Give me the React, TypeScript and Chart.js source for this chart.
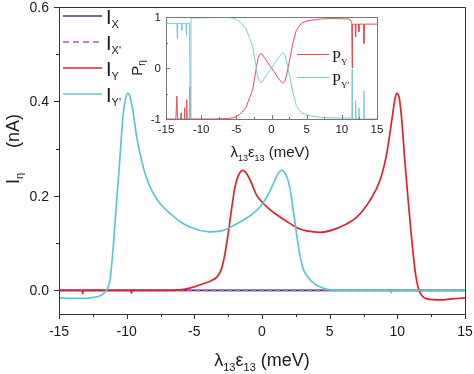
import React, { useEffect, useRef } from 'react';
import { Chart, registerables } from 'chart.js';
Chart.register(...registerables);

const FONT = "Arial, 'Liberation Sans', Helvetica, sans-serif";
const SERIF = "'Times New Roman', 'Liberation Serif', serif";

// ---- main axes ----
const X_TICKS = [-15, -10, -5, 0, 5, 10, 15];
const X_MINOR = [-12.5, -7.5, -2.5, 2.5, 7.5, 12.5];
const Y_TICKS = [0, 0.2, 0.4, 0.6];
const Y_MINOR = [0.1, 0.3, 0.5];
const MAIN_LEGEND_SUBS = ['X', "X'", 'Y', "Y'"];

// ---- main series ----
const IX_X = [-15, 15];
const IX_Y = [0, 0];
const IXP_X = [-15, 15];
const IXP_Y = [0, 0];

const IY_X = [-15, -13.3, -13.25, -13.2, -11, -9.7, -9.65, -9.6, -7, -5.8, -5.07, -4.33, -3.72, -3.34, -3.0, -2.75, -2.5, -2.25, -2.0, -1.75, -1.42, -1.13, -0.76, -0.39, 0.1, 0.59, 1.09, 1.83, 2.32, 2.8, 3.31, 4.29, 5.77, 7.0, 7.99, 8.72, 9.22, 9.59, 9.83, 9.96, 10.15, 10.33, 10.57, 10.82, 11.07, 11.31, 11.56, 11.81, 12.18, 13.16, 14.0, 15];
const IY_Y = [0, 0, -0.007, 0, 0, 0, -0.006, 0, 0, 0.002, 0.007, 0.014, 0.021, 0.028, 0.045, 0.075, 0.12, 0.172, 0.218, 0.243, 0.254, 0.247, 0.226, 0.201, 0.184, 0.171, 0.16, 0.146, 0.137, 0.13, 0.126, 0.123, 0.134, 0.155, 0.191, 0.233, 0.29, 0.36, 0.406, 0.417, 0.406, 0.36, 0.269, 0.184, 0.106, 0.042, 0.004, -0.011, -0.018, -0.02, -0.018, -0.016];

const IYP_X = [-15, -14, -13, -12.7, -12.3, -12.0, -11.72, -11.47, -11.23, -11.1, -10.99, -10.81, -10.62, -10.44, -10.25, -10.1, -9.92, -9.75, -9.51, -9.26, -9.01, -8.64, -8.15, -7.54, -6.8, -5.81, -4.82, -3.84, -2.86, -1.87, -0.88, -0.14, 0.4, 0.84, 1.2, 1.46, 1.8, 2.05, 2.3, 2.55, 2.8, 3.05, 3.4, 3.8, 4.3, 5.0, 5.5, 6.5, 8, 9.5, 9.55, 9.6, 11, 12.5, 14, 15];
const IYP_Y = [-0.016, -0.017, -0.017, -0.016, -0.014, -0.012, -0.007, 0.0015, 0.021, 0.057, 0.092, 0.163, 0.233, 0.304, 0.375, 0.403, 0.417, 0.41, 0.375, 0.325, 0.29, 0.247, 0.212, 0.184, 0.163, 0.141, 0.129, 0.124, 0.127, 0.141, 0.158, 0.177, 0.2, 0.226, 0.248, 0.254, 0.243, 0.218, 0.172, 0.12, 0.075, 0.045, 0.028, 0.016, 0.007, 0.001, 0, 0, 0, 0, -0.005, 0, 0, 0, 0, 0];

// ---- inset axes ----
const IN_X_TICKS = [-15, -10, -5, 0, 5, 10, 15];
const IN_X_MINOR = [-12.5, -7.5, -2.5, 2.5, 7.5, 12.5];
const IN_Y_TICKS = [-1, 0, 1];
const IN_Y_MINOR = [-0.5, 0.5];
const IN_LEGEND_SUBS = ['Y', "Y'"];

// ---- inset series ----
const PY_X = [-15, -13.6, -13.45, -13.35, -12.9, -12.85, -12.8, -12.43, -12.38, -12.33, -12.1, -12.05, -12.0, -11.65, -11.6, -11.55, -11.3, -8, -6, -5.04, -4.3, -3.61, -3.1, -2.67, -2.4, -2.15, -1.9, -1.6, -1.3, -1.0, -0.5, 0, 0.5, 1.0, 1.6, 1.9, 2.2, 2.57, 3.04, 3.53, 4.24, 5.19, 7, 8.5, 11.1, 11.4, 11.47, 11.52, 11.6, 11.9, 11.96, 12.02, 12.38, 12.43, 12.48, 13.09, 13.14, 13.19, 14, 15];
const PY_Y = [-1, -1, -0.55, -1, -1, -0.88, -1, -1, -0.78, -1, -1, -0.62, -1, -1, -0.37, -1, -1, -1, -0.99, -0.96, -0.88, -0.77, -0.58, -0.42, -0.2, 0.02, 0.2, 0.28, 0.27, 0.2, 0.1, 0.0, -0.1, -0.21, -0.3, -0.26, -0.1, 0.15, 0.48, 0.74, 0.875, 0.93, 0.96, 0.97, 0.96, 0.9, 0.0, 0.86, 0.86, 0.86, 0.61, 0.86, 0.86, 0.71, 0.86, 0.86, 0.48, 0.86, 0.86, 0.86];

const PYP_X = [-15, -13.45, -13.4, -13.35, -12.8, -12.76, -12.72, -12.15, -12.1, -12.05, -11.65, -11.57, -11.45, -11.2, -8, -6, -5.04, -4.3, -3.61, -3.1, -2.67, -2.4, -2.15, -1.9, -1.6, -1.3, -1.0, -0.5, 0, 0.5, 1.0, 1.6, 1.9, 2.2, 2.57, 3.04, 3.53, 4.24, 5.19, 7, 8.5, 11.1, 11.42, 11.47, 11.52, 11.9, 11.96, 12.02, 12.38, 12.43, 12.48, 13.09, 13.14, 13.19, 14, 15];
const PYP_Y = [0.875, 0.875, 0.58, 0.875, 0.875, 0.74, 0.875, 0.875, 0.64, 0.875, 0.875, -1, 0.97, 0.98, 0.99, 0.99, 0.96, 0.88, 0.77, 0.58, 0.42, 0.2, -0.02, -0.2, -0.28, -0.27, -0.2, -0.1, 0, 0.1, 0.21, 0.3, 0.26, 0.1, -0.15, -0.48, -0.74, -0.875, -0.93, -0.97, -0.98, -0.98, -0.98, -0.02, -1, -1, -0.64, -1, -1, -0.78, -1, -1, -0.45, -1, -1, -1];

const C_X = '#2b3990';
const C_XP = '#b35ab5';
const C_Y = '#e4202b';
const C_YP = '#5ec6d2';
const C_PY = '#ea4d55';
const C_PYP = '#78cdd9';
const TXT = '#1a1a1a';

const pts = (xs: number[], ys: number[]) => xs.map((x, i) => ({ x, y: ys[i] }));

type Seg = { t: string; size: number; dy?: number; fam?: string };
function drawRich(ctx: CanvasRenderingContext2D, segs: Seg[], x: number, y: number, align: 'left' | 'center') {
  let w = 0;
  const ws: number[] = [];
  for (const s of segs) {
    ctx.font = `${s.size}px ${s.fam || FONT}`;
    const m = ctx.measureText(s.t).width;
    ws.push(m);
    w += m;
  }
  let cx = align === 'center' ? x - w / 2 : x;
  ctx.textAlign = 'left';
  ctx.textBaseline = 'alphabetic';
  segs.forEach((s, i) => {
    ctx.font = `${s.size}px ${s.fam || FONT}`;
    ctx.fillText(s.t, cx, y + (s.dy || 0));
    cx += ws[i];
  });
}

const mainDecor = {
  id: 'mainDecor',
  afterDraw(chart: any) {
    const ctx: CanvasRenderingContext2D = chart.ctx;
    const { left, right, top, bottom } = chart.chartArea;
    const xs = chart.scales.x;
    const ys = chart.scales.y;
    ctx.save();
    ctx.strokeStyle = '#333';
    ctx.lineWidth = 1;
    ctx.strokeRect(Math.round(left) + 0.5, Math.round(top) + 0.5, Math.round(right - left), Math.round(bottom - top));
    ctx.beginPath();
    for (const v of X_TICKS) { const p = Math.round(xs.getPixelForValue(v)) + 0.5; ctx.moveTo(p, bottom); ctx.lineTo(p, bottom + 5); }
    for (const v of X_MINOR) { const p = Math.round(xs.getPixelForValue(v)) + 0.5; ctx.moveTo(p, bottom); ctx.lineTo(p, bottom + 3); }
    for (const v of Y_TICKS) { const p = Math.round(ys.getPixelForValue(v)) + 0.5; ctx.moveTo(left, p); ctx.lineTo(left - 5, p); }
    for (const v of Y_MINOR) { const p = Math.round(ys.getPixelForValue(v)) + 0.5; ctx.moveTo(left, p); ctx.lineTo(left - 3, p); }
    ctx.stroke();

    // tick labels
    ctx.fillStyle = TXT;
    ctx.font = `14px ${FONT}`;
    ctx.textBaseline = 'alphabetic';
    ctx.textAlign = 'center';
    for (const v of X_TICKS) ctx.fillText(String(v), xs.getPixelForValue(v), 336);
    ctx.textAlign = 'right';
    for (const v of Y_TICKS) ctx.fillText(v.toFixed(1), 49, ys.getPixelForValue(v) + 5);

    drawRich(ctx, [
      { t: 'λ', size: 18 }, { t: '13', size: 11, dy: 5 }, { t: 'ε', size: 18 }, { t: '13', size: 11, dy: 5 }, { t: ' (meV)', size: 18 },
    ], 262, 366, 'center');

    // y title, rotated: local x = -page y
    ctx.save();
    ctx.translate(19, 0);
    ctx.rotate(-Math.PI / 2);
    drawRich(ctx, [{ t: 'I', size: 18 }, { t: 'η', size: 11, dy: 4 }], -184, 0, 'left');
    drawRich(ctx, [{ t: '(nA)', size: 18 }], -148, 0, 'left');
    ctx.restore();

    // legend
    const cols = [C_X, C_XP, C_Y, C_YP];
    MAIN_LEGEND_SUBS.forEach((sub, i) => {
      const ly = 16 + i * 26;
      ctx.beginPath();
      ctx.strokeStyle = cols[i];
      ctx.lineWidth = 1.6;
      ctx.setLineDash(i === 1 ? [6, 4] : []);
      ctx.moveTo(63, ly);
      ctx.lineTo(102, ly);
      ctx.stroke();
      ctx.setLineDash([]);
      ctx.fillStyle = TXT;
      drawRich(ctx, [{ t: 'I', size: 20 }, { t: sub, size: 11, dy: 4 }], 106, ly + 8, 'left');
    });
    ctx.restore();
  },
};

const insetDecor = {
  id: 'insetDecor',
  beforeDraw(chart: any) {
    const ctx: CanvasRenderingContext2D = chart.ctx;
    const { left, right, top, bottom } = chart.chartArea;
    ctx.save();
    ctx.fillStyle = '#ffffff';
    ctx.fillRect(left, top, right - left, bottom - top);
    ctx.restore();
  },
  afterDraw(chart: any) {
    const ctx: CanvasRenderingContext2D = chart.ctx;
    const { left, right, top, bottom } = chart.chartArea;
    const xs = chart.scales.x;
    const ys = chart.scales.y;
    ctx.save();
    ctx.strokeStyle = '#777';
    ctx.lineWidth = 1;
    ctx.strokeRect(Math.round(left) + 0.5, Math.round(top) + 0.5, Math.round(right - left), Math.round(bottom - top));
    ctx.beginPath();
    for (const v of IN_X_TICKS) { const p = Math.round(xs.getPixelForValue(v)) + 0.5; ctx.moveTo(p, bottom); ctx.lineTo(p, bottom - 4); }
    for (const v of IN_X_MINOR) { const p = Math.round(xs.getPixelForValue(v)) + 0.5; ctx.moveTo(p, bottom); ctx.lineTo(p, bottom - 2); }
    for (const v of IN_Y_TICKS) { const p = Math.round(ys.getPixelForValue(v)) + 0.5; ctx.moveTo(left, p); ctx.lineTo(left + 4, p); }
    for (const v of IN_Y_MINOR) { const p = Math.round(ys.getPixelForValue(v)) + 0.5; ctx.moveTo(left, p); ctx.lineTo(left + 2, p); }
    ctx.stroke();

    ctx.fillStyle = TXT;
    ctx.font = `11.5px ${FONT}`;
    ctx.textBaseline = 'alphabetic';
    ctx.textAlign = 'center';
    for (const v of IN_X_TICKS) ctx.fillText(String(v), xs.getPixelForValue(v), 125);
    ctx.textAlign = 'right';
    for (const v of IN_Y_TICKS) ctx.fillText(String(v), 31, ys.getPixelForValue(v) + 4);

    drawRich(ctx, [
      { t: 'λ', size: 15 }, { t: '13', size: 9, dy: 4 }, { t: 'ε', size: 15 }, { t: '13', size: 9, dy: 4 }, { t: ' (meV)', size: 15 },
    ], 140, 149, 'center');

    ctx.save();
    ctx.translate(12, 60);
    ctx.rotate(-Math.PI / 2);
    drawRich(ctx, [{ t: 'P', size: 15 }, { t: 'η', size: 10, dy: 3 }], 0, 0, 'center');
    ctx.restore();

    const cols = [C_PY, C_PYP];
    const lys = [54 - 8, 77 - 8];
    IN_LEGEND_SUBS.forEach((sub, i) => {
      const ly = lys[i];
      ctx.beginPath();
      ctx.strokeStyle = cols[i];
      ctx.lineWidth = 1;
      ctx.moveTo(297 - 130, ly + 0.5);
      ctx.lineTo(329 - 130, ly + 0.5);
      ctx.stroke();
      ctx.fillStyle = TXT;
      drawRich(ctx, [{ t: 'P', size: 16, fam: SERIF }, { t: sub, size: 9, dy: 3, fam: SERIF }], 332 - 130, ly + 8, 'left');
    });
    ctx.restore();
  },
};

const hiddenTicks = { display: false };

export default function App() {
  const mainRef = useRef<HTMLCanvasElement>(null);
  const insetRef = useRef<HTMLCanvasElement>(null);

  useEffect(() => {
    const common = { pointRadius: 0, fill: false, cubicInterpolationMode: 'monotone' as const };
    const main = new Chart(mainRef.current as HTMLCanvasElement, {
      type: 'line',
      data: {
        datasets: [
          { label: 'I_X', data: pts(IX_X, IX_Y), borderColor: C_X, borderWidth: 1.6, order: 4, ...common },
          { label: "I_X'", data: pts(IXP_X, IXP_Y), borderColor: C_XP, borderWidth: 1.6, borderDash: [5, 3], order: 3, ...common },
          { label: 'I_Y', data: pts(IY_X, IY_Y), borderColor: C_Y, borderWidth: 1.7, order: 2, ...common },
          { label: "I_Y'", data: pts(IYP_X, IYP_Y), borderColor: C_YP, borderWidth: 1.7, order: 1, ...common },
        ],
      },
      options: {
        animation: false,
        responsive: false,
        events: [],
        layout: { padding: { left: 0, right: 9, top: 7, bottom: 0 } },
        plugins: { legend: { display: false }, tooltip: { enabled: false } },
        scales: {
          x: {
            type: 'linear', min: -15, max: 15,
            grid: { display: false },
            border: { display: false },
            afterFit: (s: any) => { s.height = 60; },
            ticks: hiddenTicks,
          },
          y: {
            type: 'linear', min: -0.05, max: 0.6,
            grid: { display: false },
            border: { display: false },
            afterFit: (s: any) => { s.width = 59; },
            ticks: hiddenTicks,
          },
        },
      } as any,
      plugins: [mainDecor],
    });

    const inset = new Chart(insetRef.current as HTMLCanvasElement, {
      type: 'line',
      data: {
        datasets: [
          { label: 'P_Y', data: pts(PY_X, PY_Y), borderColor: C_PY, borderWidth: 1, order: 2, pointRadius: 0, fill: false, tension: 0 },
          { label: "P_Y'", data: pts(PYP_X, PYP_Y), borderColor: C_PYP, borderWidth: 1, order: 1, pointRadius: 0, fill: false, tension: 0 },
        ],
      },
      options: {
        animation: false,
        responsive: false,
        events: [],
        layout: { padding: { left: 0, right: 8, top: 9, bottom: 0 } },
        plugins: { legend: { display: false }, tooltip: { enabled: false } },
        scales: {
          x: {
            type: 'linear', min: -15, max: 15,
            grid: { display: false },
            border: { display: false },
            afterFit: (s: any) => { s.height = 49; },
            ticks: hiddenTicks,
          },
          y: {
            type: 'linear', min: -1, max: 1,
            grid: { display: false },
            border: { display: false },
            afterFit: (s: any) => { s.width = 36; },
            ticks: hiddenTicks,
          },
        },
      } as any,
      plugins: [insetDecor],
    });

    return () => {
      main.destroy();
      inset.destroy();
    };
  }, []);

  return (
    <div style={{ position: 'absolute', left: 0, top: 0, width: 474, height: 374, background: '#fff' }}>
      <canvas ref={mainRef} width={474} height={374} style={{ position: 'absolute', left: 0, top: 0, width: 474, height: 374 }} />
      <canvas ref={insetRef} width={255} height={160} style={{ position: 'absolute', left: 130, top: 8, width: 255, height: 160 }} />
    </div>
  );
}
